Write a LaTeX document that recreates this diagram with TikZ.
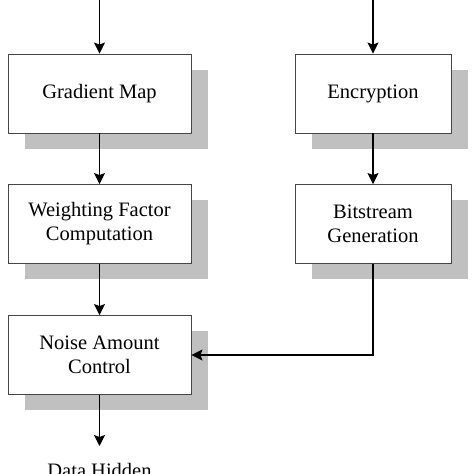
\documentclass[tikz,border=0pt]{standalone}
\usepackage{fontspec}
\setmainfont{Liberation Serif}
\usetikzlibrary{arrows.meta,shadows}
\definecolor{shadowgray}{RGB}{192,192,192}
\definecolor{boxline}{RGB}{70,70,70}
\begin{document}
\begin{tikzpicture}[x=1pt,y=1pt,
  blockbox/.style={draw=boxline, line width=0.9pt, fill=white, align=center,
    minimum height=79pt, inner sep=0pt,
    font=\fontsize{20.5}{24}\selectfont,
    drop shadow={shadow xshift=17pt, shadow yshift=-16pt, fill=shadowgray, opacity=1}},
  leftbox/.style={blockbox, minimum width=183pt},
  rightbox/.style={blockbox, minimum width=156pt},
  arr/.style={draw=black, line width=1.1pt, -{Stealth[length=11pt,width=11pt,inset=2pt]}}]
\useasboundingbox (0,0) rectangle (474,474);
\node[leftbox] (gm) at (99.5,380.5) {Gradient Map};
\node[leftbox] (wf) at (99.5,250) {Weighting Factor\\Computation};
\node[leftbox] (nc) at (99.5,119) {Noise Amount\\Control};
\node[rightbox] (en) at (373,380.5) {Encryption};
\node[rightbox] (bg) at (373,250) {Bitstream\\Generation};
\coordinate (inL) at (99.5,474);
\coordinate (inR) at (373,474);
\coordinate (outL) at (99.5,28);
\node[anchor=base, font=\fontsize{20.5}{24}\selectfont, inner sep=0pt] (dh) at (99.5,-4) {Data Hidden};
\draw[arr] (inL) -- (gm.north);
\draw[arr] (inR) -- (en.north);
\draw[arr] (gm.south) -- (wf.north);
\draw[arr] (en.south) -- (bg.north);
\draw[arr] (wf.south) -- (nc.north);
\draw[arr] (bg.south) |- (nc.east);
\draw[arr] (nc.south) -- (outL);
\end{tikzpicture}
\end{document}
